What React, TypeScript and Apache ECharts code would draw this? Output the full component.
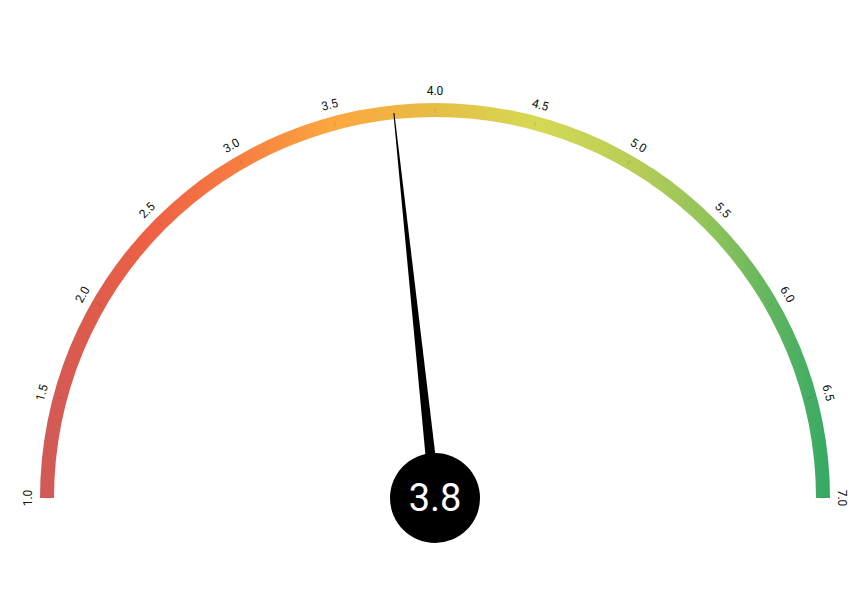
import React, { useEffect, useRef } from 'react';
import * as echarts from 'echarts';

const gaugeMin = 1;
const gaugeMax = 7;
const tickCount = 12;
const gaugeValue = [3.8];
const colorStopValues = [1.0, 2.0, 2.5, 3.0, 3.5, 4.0, 4.5, 5.0, 5.5, 6.0, 6.5, 7.0];
const colorStopColors = ['#d05a58', '#de5b4b', '#ef6244', '#f67d40', '#fca73f', '#e6bd45', '#d5d955', '#b9cd56', '#8ec35a', '#5cb460', '#3fac63', '#33a964'];

export default function App() {
  const ref = useRef<HTMLDivElement>(null);
  useEffect(() => {
    document.body.style.margin = '0';
    if (!ref.current) return;
    const chart = echarts.init(ref.current, undefined, { renderer: 'svg' });
    const stops = colorStopValues.map((v, i) => {
      const theta = Math.PI * (1 - (v - gaugeMin) / (gaugeMax - gaugeMin));
      return { offset: (1 + Math.cos(theta)) / 2, color: colorStopColors[i] };
    });
    const gradient = new echarts.graphic.LinearGradient(0, 0, 1, 0, stops);
    chart.setOption({
      animation: false,
      series: [
        {
          type: 'gauge',
          center: [435, 498],
          radius: 395,
          startAngle: 180,
          endAngle: 0,
          min: gaugeMin,
          max: gaugeMax,
          splitNumber: tickCount,
          axisLine: { lineStyle: { width: 14, color: [[1, gradient]] } },
          splitLine: { show: true, length: 5, distance: -9, lineStyle: { color: 'rgba(0,0,0,0.12)', width: 1 } },
          axisTick: { show: false },
          axisLabel: {
            distance: -8,
            rotate: 'tangential',
            color: '#111',
            fontSize: 12,
            fontFamily: 'Roboto',
            formatter: (v: number) => v.toFixed(1),
          },
          pointer: {
            icon: 'path://M4.5,0 L5.5,0 L11,100 L0,100 Z',
            length: 387,
            width: 11,
            offsetCenter: [0, 0],
            itemStyle: { color: '#000' },
          },
          anchor: { show: false },
          title: { show: false },
          detail: {
            offsetCenter: [0, 0],
            padding: 0,
            width: 90,
            height: 90,
            lineHeight: 90,
            borderRadius: 45,
            backgroundColor: '#000',
            align: 'center',
            color: '#fff',
            fontSize: 38,
            fontFamily: 'Roboto',
            fontWeight: 400,
            formatter: (v: number) => v.toFixed(1),
          },
          data: [{ value: gaugeValue[0] }],
        },
      ],
    });
    return () => chart.dispose();
  }, []);
  return <div ref={ref} style={{ width: 860, height: 604 }} />;
}
